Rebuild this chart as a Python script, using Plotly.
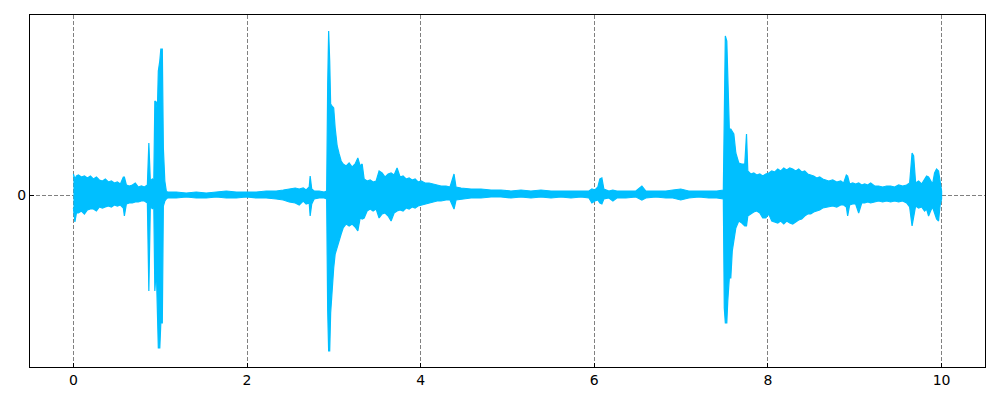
import plotly.graph_objects as go

# Envelope of the waveform: time (s), upper peak, lower peak (arbitrary amplitude units)
time_s = [
    0.000, 0.017, 0.035, 0.058, 0.092, 0.127, 0.161, 0.196, 0.230, 0.265,
    0.299, 0.334, 0.368, 0.403, 0.437, 0.472, 0.506, 0.541, 0.575, 0.587,
    0.610, 0.644, 0.679, 0.713, 0.748, 0.783, 0.817, 0.852, 0.869, 0.886,
    0.909, 0.926, 0.938, 0.955, 0.967, 0.978, 0.995, 1.007, 1.024, 1.036,
    1.053, 1.070, 1.082, 1.185, 1.300, 1.415, 1.530, 1.646, 1.761, 1.876,
    1.991, 2.106, 2.221, 2.336, 2.417, 2.486, 2.555, 2.601, 2.647, 2.681,
    2.716, 2.727, 2.745, 2.773, 2.831, 2.888, 2.917, 2.929, 2.940, 2.952,
    2.963, 2.980, 2.998, 3.015, 3.038, 3.061, 3.084, 3.107, 3.142, 3.176,
    3.211, 3.245, 3.276, 3.303, 3.326, 3.349, 3.383, 3.418, 3.452, 3.487,
    3.521, 3.556, 3.590, 3.625, 3.659, 3.694, 3.728, 3.763, 3.797, 3.832,
    3.867, 3.901, 3.936, 3.970, 4.005, 4.051, 4.097, 4.143, 4.189, 4.235,
    4.292, 4.338, 4.384, 4.407, 4.465, 4.580, 4.695, 4.810, 4.925, 5.040,
    5.155, 5.270, 5.385, 5.501, 5.616, 5.731, 5.846, 5.938, 5.972, 6.007,
    6.041, 6.064, 6.087, 6.110, 6.168, 6.214, 6.260, 6.364, 6.479, 6.548,
    6.594, 6.709, 6.824, 6.904, 6.996, 7.089, 7.204, 7.319, 7.411, 7.486,
    7.497, 7.509, 7.526, 7.537, 7.555, 7.572, 7.589, 7.607, 7.630, 7.664,
    7.699, 7.733, 7.753, 7.768, 7.802, 7.837, 7.871, 7.906, 7.940, 7.975,
    8.009, 8.044, 8.078, 8.113, 8.147, 8.182, 8.216, 8.251, 8.285, 8.320,
    8.354, 8.389, 8.423, 8.458, 8.493, 8.527, 8.562, 8.596, 8.631, 8.665,
    8.700, 8.746, 8.792, 8.838, 8.872, 8.903, 8.918, 8.941, 8.976, 9.010,
    9.045, 9.080, 9.114, 9.149, 9.183, 9.229, 9.275, 9.321, 9.367, 9.413,
    9.459, 9.505, 9.551, 9.597, 9.632, 9.660, 9.678, 9.701, 9.735, 9.770,
    9.804, 9.827, 9.850, 9.873, 9.896, 9.919, 9.942, 9.965, 9.983, 10.000,
]
upper_peak = [
    21, 16, 19, 20, 18, 19, 17, 19, 16, 18,
    15, 14, 16, 13, 14, 12, 13, 11, 18, 18,
    10, 9, 10, 12, 8, 9, 8, 10, 52, 14,
    16, 14, 94, 93, 84, 124, 134, 146, 146, 47,
    14, 4, 3, 3, 2, 3, 2, 3, 4, 3,
    3, 3, 4, 4, 5, 6, 7, 6, 7, 5,
    8, 19, 6, 4, 4, 3, 4, 111, 164, 134,
    91, 89, 87, 67, 49, 41, 34, 31, 29, 32,
    28, 31, 37, 29, 31, 16, 14, 15, 13, 14,
    24, 22, 18, 21, 22, 20, 27, 18, 19, 16,
    17, 15, 16, 13, 14, 12, 12, 11, 10, 9,
    9, 8, 21, 8, 7, 6, 6, 5, 5, 4,
    5, 4, 5, 4, 4, 4, 4, 4, 6, 5,
    8, 16, 17, 6, 4, 5, 4, 4, 4, 9,
    4, 4, 4, 5, 6, 4, 4, 4, 4, 5,
    114, 159, 154, 117, 66, 66, 64, 61, 42, 32,
    31, 31, 61, 24, 21, 22, 20, 21, 19, 21,
    22, 24, 23, 26, 24, 27, 25, 27, 26, 24,
    26, 23, 24, 21, 20, 19, 17, 18, 16, 15,
    14, 15, 13, 14, 12, 20, 19, 11, 12, 11,
    12, 10, 11, 10, 12, 9, 9, 8, 9, 9,
    8, 10, 9, 10, 12, 42, 39, 12, 14, 11,
    16, 19, 18, 14, 11, 22, 26, 24, 12, 4,
]
lower_peak = [
    -13, -27, -18, -18, -16, -19, -15, -14, -14, -16,
    -12, -13, -12, -11, -12, -10, -11, -10, -13, -21,
    -9, -8, -8, -7, -7, -6, -6, -8, -96, -11,
    -14, -11, -96, -74, -96, -153, -153, -128, -128, -11,
    -6, -4, -3, -3, -2, -3, -3, -2, -3, -3,
    -2, -3, -3, -4, -5, -7, -8, -10, -6, -9,
    -8, -21, -9, -4, -3, -3, -4, -116, -156, -156,
    -118, -98, -73, -59, -51, -46, -39, -33, -29, -31,
    -29, -32, -36, -23, -24, -23, -16, -14, -16, -14,
    -23, -19, -18, -21, -26, -18, -16, -15, -16, -13,
    -14, -12, -13, -11, -10, -9, -8, -7, -6, -6,
    -5, -5, -14, -5, -4, -3, -3, -2, -2, -3,
    -2, -3, -2, -3, -2, -3, -2, -3, -8, -6,
    -5, -8, -9, -4, -3, -6, -3, -3, -2, -5,
    -3, -2, -3, -3, -5, -3, -2, -3, -3, -4,
    -113, -128, -128, -106, -83, -83, -56, -46, -33, -26,
    -28, -31, -31, -21, -19, -17, -16, -18, -23, -23,
    -19, -26, -27, -28, -26, -29, -26, -28, -29, -27,
    -25, -24, -21, -19, -19, -17, -16, -15, -13, -13,
    -12, -11, -12, -10, -10, -12, -21, -10, -9, -9,
    -18, -8, -8, -7, -8, -7, -6, -7, -6, -7,
    -6, -7, -6, -8, -12, -31, -21, -11, -13, -12,
    -16, -14, -21, -16, -12, -18, -24, -26, -10, -4,
]

x_ticks = [0, 2, 4, 6, 8, 10]
y_ticks = [0]

color = "#00BFFF"

fig = go.Figure()
fig.add_trace(go.Scatter(
    x=time_s + time_s[::-1],
    y=upper_peak + lower_peak[::-1],
    mode="lines",
    fill="toself",
    fillcolor=color,
    line=dict(color=color, width=1.2),
    hoverinfo="skip",
    showlegend=False,
))

axis_common = dict(
    showline=True, linecolor="black", linewidth=1, mirror=True,
    ticks="inside", ticklen=4, tickcolor="black",
    showgrid=True, gridcolor="#808080", gridwidth=1, griddash="4px,2px",
    zeroline=False,
    tickfont=dict(family="DejaVu Sans", size=14, color="black"),
)

fig.update_layout(
    width=1000, height=400,
    margin=dict(l=30, r=15, t=15, b=33),
    paper_bgcolor="white", plot_bgcolor="white",
    xaxis=dict(range=[-0.5, 10.5], tickvals=x_ticks, ticktext=[str(v) for v in x_ticks], **axis_common),
    yaxis=dict(range=[-172, 180], tickvals=y_ticks, ticktext=["0"], **axis_common),
)

fig.write_html("out.html", config={"displayModeBar": False},
               post_script="document.body.style.margin='0';")
